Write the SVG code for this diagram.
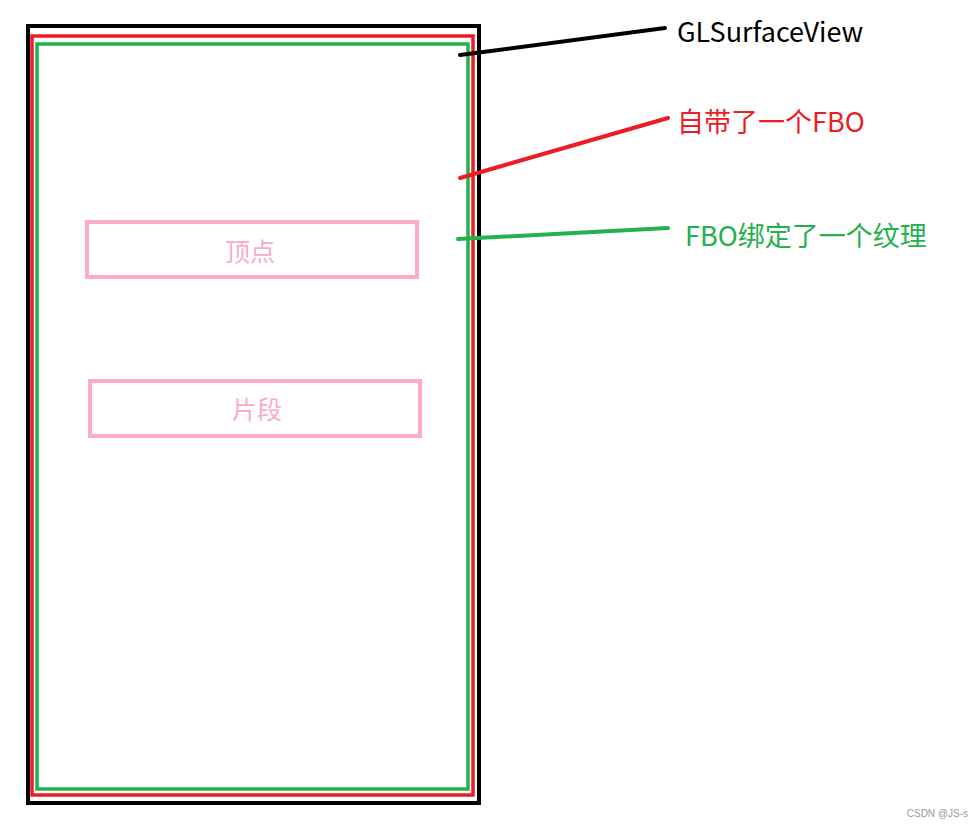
<svg xmlns="http://www.w3.org/2000/svg" width="980" height="825" viewBox="0 0 980 825">
<style>
.lbl{font-family:"Microsoft YaHei","Noto Sans CJK SC",sans-serif;font-size:27px}
.box{fill:none;stroke:#f9abc9;stroke-width:4}
.in{font-family:"Noto Sans CJK SC",sans-serif;font-size:25px;fill:#f9abc9;text-anchor:middle}
</style>
<rect width="980" height="825" fill="#fff"/>
<g id="surface"><rect x="28" y="26" width="451" height="777" fill="none" stroke="#000" stroke-width="4"/></g>
<g id="fbo"><rect x="32" y="36" width="441" height="759" fill="none" stroke="#ed1c24" stroke-width="3.5"/></g>
<g id="texture"><rect x="37" y="44" width="431" height="745" fill="none" stroke="#22b14c" stroke-width="3.5"/></g>
<g id="vertex"><rect class="box" x="87" y="222" width="330" height="55"/><text class="in" x="250" y="261">顶点</text></g>
<g id="fragment"><rect class="box" x="90" y="381" width="330" height="55"/><text class="in" x="257" y="419">片段</text></g>
<g id="connectors" stroke-width="4" stroke-linecap="round">
<line x1="460" y1="55" x2="665" y2="28" stroke="#000"/>
<line x1="460" y1="178" x2="668" y2="118" stroke="#ed1c24"/>
<line x1="458" y1="239" x2="668" y2="228" stroke="#22b14c"/>
</g>
<text class="lbl" x="677" y="42" fill="#000">GLSurfaceView</text>
<text class="lbl" x="677" y="132" fill="#ed1c24">自带了一个FBO</text>
<text class="lbl" x="685" y="246" fill="#22b14c">FBO绑定了一个纹理</text>
<text x="968" y="817" font-family="Liberation Sans,sans-serif" font-size="10" fill="#999" text-anchor="end">CSDN @JS-s</text>
</svg>
